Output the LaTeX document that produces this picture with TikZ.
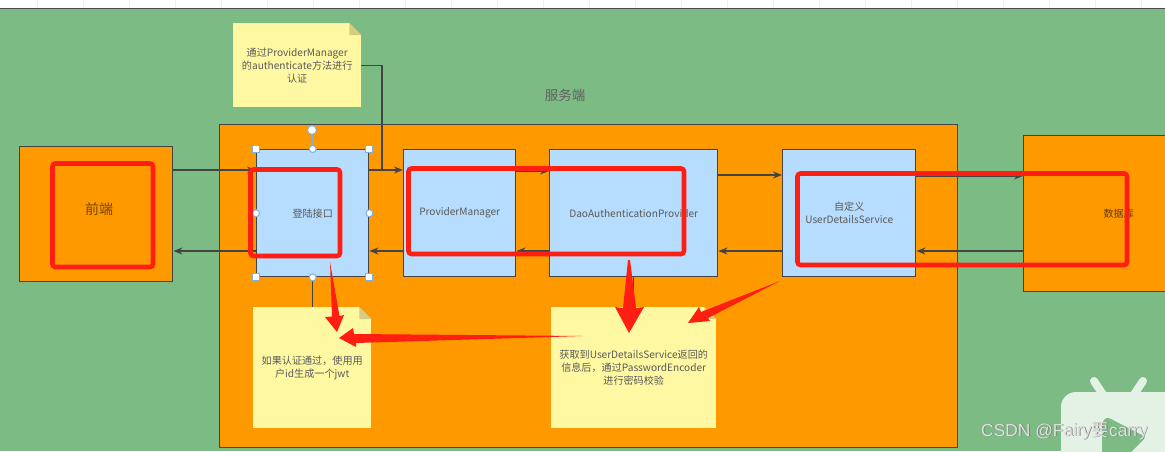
\documentclass[tikz,border=0pt]{standalone}
\usepackage{fontspec}
\setmainfont{Noto Sans CJK SC}
\newfontfamily\wmfont{Liberation Sans}
\usetikzlibrary{arrows.meta}
\definecolor{bggreen}{HTML}{7CBB83}
\definecolor{boxorange}{HTML}{FF9900}
\definecolor{boxblue}{HTML}{B6DCFE}
\definecolor{noteyellow}{HTML}{FFF8A3}
\definecolor{foldcol}{HTML}{D4CC80}
\definecolor{linedark}{HTML}{444444}
\definecolor{redmark}{HTML}{FF1E12}
\definecolor{handle}{HTML}{7FB0E0}
\definecolor{tvcol}{HTML}{E4F2E6}
\tikzset{
  x=1pt,y=-1pt,
  outerbox/.style={draw=linedark,line width=1.4pt,fill=boxorange,anchor=north west,inner sep=0pt,font=\fontsize{10.1}{13}\selectfont,text=black!60!boxorange},
  bluebox/.style={draw=linedark,line width=1.4pt,fill=boxblue,anchor=north west,inner sep=0pt,font=\fontsize{10.1}{13}\selectfont,text=black!65,align=center},
  notebox/.style={fill=noteyellow,anchor=north west,inner sep=0pt,font=\fontsize{10.1}{13}\selectfont,text=black!65,align=center},
  flow/.style={draw=linedark,line width=1.3pt,-{Stealth[length=9pt,width=7pt]}},
  plainline/.style={draw=linedark,line width=1.3pt},
  redbox/.style={draw=redmark,line width=4.6pt,rounded corners=3pt},
  redarrow/.style={fill=redmark,draw=none},
  sqhandle/.style={draw=handle,fill=white,line width=1pt,minimum size=7pt,inner sep=0pt},
  cirhandle/.style={circle,draw=handle,fill=white,line width=1pt,minimum size=7pt,inner sep=0pt}
}
\newcommand{\notefold}[2]{%
  \fill[#2] ([xshift=-12pt]#1.north east) -- (#1.north east) -- ([yshift=-12pt]#1.north east) -- cycle;
  \fill[foldcol] ([xshift=-12pt]#1.north east) -- ([yshift=-12pt]#1.north east) -- ([xshift=-12pt,yshift=-12pt]#1.north east) -- cycle;}
\begin{document}
\begin{tikzpicture}
\clip (0,0) rectangle (1165,451);
\fill[white] (0,0) rectangle (1165,451);
\foreach \gx in {37,83,...,1165} \draw[black!6,line width=.8pt] (\gx,0) -- (\gx,8);
\fill[bggreen] (0,9) rectangle (1165,451);
\draw[black!70,line width=1.5pt] (0,8.5) -- (1165,8.5);

% tv icon
\fill[tvcol,rounded corners=15pt] (1061,392) rectangle (1200,480);
\draw[tvcol,line width=8pt,line cap=round] (1094,381) -- (1104,396);
\draw[tvcol,line width=8pt,line cap=round] (1143,381) -- (1133,396);
\fill[bggreen,rounded corners=3pt] (1102,422) -- (1107,417) -- (1146,437) -- (1118,465) -- (1102,465) -- cycle;

% main boxes
\node[outerbox,minimum width=738pt,minimum height=323pt] (server) at (219,124) {};
\node[outerbox,minimum width=153pt,minimum height=135pt] (front) at (19,146) {};
\node[outerbox,minimum width=190pt,minimum height=156pt] (db) at (1023,135) {数据库};
\node[bluebox,minimum width=112pt,minimum height=127pt] (login) at (256,149) {登陆接口};
\node[bluebox,minimum width=112pt,minimum height=127pt] (pm) at (403,149) {ProviderManager};
\node[bluebox,minimum width=168pt,minimum height=127pt] (dao) at (549,149) {DaoAuthenticationProvider};
\node[bluebox,minimum width=133pt,minimum height=127pt] (uds) at (782,149) {自定义\\UserDetailsService};
\node[notebox,minimum width=128pt,minimum height=84pt] (noteA) at (233,23) {通过ProviderManager\\的authenticate方法进行\\认证};
\node[notebox,minimum width=118pt,minimum height=121pt] (noteB) at (253,307) {如果认证通过，使用用\\户id生成一个jwt};
\node[notebox,minimum width=165pt,minimum height=121pt] (noteC) at (551,307) {获取到UserDetailsService返回的\\信息后，通过PasswordEncoder\\进行密码校验};
\notefold{noteA}{bggreen}
\notefold{noteB}{boxorange}
\notefold{noteC}{boxorange}

\node[font=\fontsize{14}{16}\selectfont,text=black!55!boxorange] (frontlabel) at (99,209) {前端};
\node[font=\fontsize{13.5}{15}\selectfont,text=black!62] (title) at (565,95.5) {服务端};

% row coordinates
\coordinate (rowA) at (0,170);
\coordinate (rowB) at (0,171);
\coordinate (rowC) at (0,175);
\coordinate (rowD) at (0,176);
\coordinate (rowE) at (0,251);
\coordinate (joinA) at (382,170);

% connectors
\draw[flow] (front.east |- rowA) -- (login.west |- rowA);
\draw[flow] (login.east |- rowA) -- (pm.west |- rowA);
\draw[plainline] (noteA.east) -| (joinA);
\draw[flow] (pm.east |- rowB) -- (dao.west |- rowB);
\draw[flow] (dao.east |- rowC) -- (uds.west |- rowC);
\draw[flow] (uds.east |- rowD) -- (db.west |- rowD);
\draw[flow] (db.west |- rowE) -- (uds.east |- rowE);
\draw[flow] (uds.west |- rowE) -- (dao.east |- rowE);
\draw[flow] (dao.west |- rowE) -- (pm.east |- rowE);
\draw[flow] (pm.west |- rowE) -- (login.east |- rowE);
\draw[flow] (login.west |- rowE) -- (front.east |- rowE);
\draw[plainline] (login.south) -- (noteB.north -| login.south);
\draw[plainline] (dao.south) -- (noteC.north -| dao.south);

% selection handles
\draw[handle,line width=1pt] (login.north) -- ++(0,-19);
\node[cirhandle,minimum size=9pt] (rot) at (312,130) {};
\node[sqhandle] (h1) at (login.north west) {};
\node[sqhandle] (h2) at (login.north east) {};
\node[sqhandle] (h3) at (login.south west) {};
\node[sqhandle] (h4) at (login.south east) {};
\node[cirhandle] (h5) at (login.north) {};
\node[cirhandle] (h6) at (login.south) {};
\node[cirhandle] (h7) at (login.west) {};
\node[cirhandle] (h8) at (login.east) {};

% red annotation
\draw[redbox] (52.5,163.5) rectangle (153,267);
\draw[redbox] (250.5,169.5) rectangle (340,256);
\draw[redbox] (408.5,168.5) rectangle (684,254);
\draw[redbox] (797.5,173.5) rectangle (1127,265);
\fill[redarrow] (330,262) -- (339.5,316) -- (344,315) -- (337,332) -- (325,317) -- (332,316.5) -- cycle;
\fill[redarrow] (628,260) -- (630,260) -- (636,308) -- (644,307) -- (629,333) -- (615,307) -- (623,308) -- cycle;
\fill[redarrow] (583,336) -- (356,343) -- (356,347) -- (339,338) -- (353,328) -- (354,334) -- cycle;
\fill[redarrow] (780,281) -- (708,318) -- (710,321) -- (688,323) -- (699,307) -- (701,312) -- cycle;

\node[anchor=west,inner sep=0pt,text=black!55,font=\wmfont\fontsize{17.4}{18}\selectfont] (wmshadow) at (981.7,431.7) {CSDN @Fairy{\fontspec{Noto Sans CJK SC}要}carry};
\node[anchor=west,inner sep=0pt,text=white!88!black,font=\wmfont\fontsize{17.4}{18}\selectfont] (wm) at (981,431) {CSDN @Fairy{\fontspec{Noto Sans CJK SC}要}carry};
\end{tikzpicture}
\end{document}
